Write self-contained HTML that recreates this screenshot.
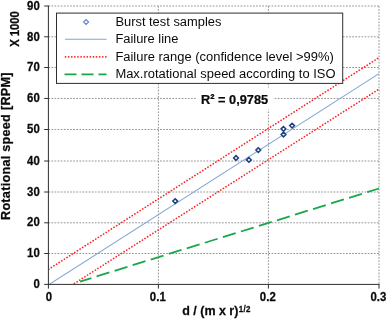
<!DOCTYPE html><html><head><meta charset="utf-8"><title>chart</title><style>html,body{margin:0;padding:0;background:#fff}svg{display:block}text{font-family:"Liberation Sans",Arial,sans-serif;fill:#0a0a0a}</style></head><body>
<svg width="387" height="319" viewBox="0 0 387 319">
<rect width="387" height="319" fill="#fff"/>
<line x1="48.4" y1="253.50" x2="379.0" y2="253.50" stroke="#939393" stroke-width="1" stroke-dasharray="1.7 1.4" fill="none"/>
<line x1="48.4" y1="222.80" x2="379.0" y2="222.80" stroke="#939393" stroke-width="1" stroke-dasharray="1.7 1.4" fill="none"/>
<line x1="48.4" y1="192.00" x2="379.0" y2="192.00" stroke="#939393" stroke-width="1" stroke-dasharray="1.7 1.4" fill="none"/>
<line x1="48.4" y1="161.00" x2="379.0" y2="161.00" stroke="#939393" stroke-width="1" stroke-dasharray="1.7 1.4" fill="none"/>
<line x1="48.4" y1="129.50" x2="379.0" y2="129.50" stroke="#939393" stroke-width="1" stroke-dasharray="1.7 1.4" fill="none"/>
<line x1="48.4" y1="98.45" x2="379.0" y2="98.45" stroke="#939393" stroke-width="1" stroke-dasharray="1.7 1.4" fill="none"/>
<line x1="48.4" y1="67.50" x2="379.0" y2="67.50" stroke="#939393" stroke-width="1" stroke-dasharray="1.7 1.4" fill="none"/>
<line x1="48.4" y1="36.80" x2="379.0" y2="36.80" stroke="#939393" stroke-width="1" stroke-dasharray="1.7 1.4" fill="none"/>
<line x1="48.4" y1="6.00" x2="379.0" y2="6.00" stroke="#939393" stroke-width="1" stroke-dasharray="1.7 1.4" fill="none"/>
<line x1="158.40" y1="6.0" x2="158.40" y2="284.4" stroke="#939393" stroke-width="1" stroke-dasharray="1.7 1.4" fill="none"/>
<line x1="268.40" y1="6.0" x2="268.40" y2="284.4" stroke="#939393" stroke-width="1" stroke-dasharray="1.7 1.4" fill="none"/>
<line x1="379.00" y1="6.0" x2="379.00" y2="284.4" stroke="#939393" stroke-width="1" stroke-dasharray="1.7 1.4" fill="none"/>
<rect x="196" y="87.5" width="77.5" height="22" fill="#fff"/>
<clipPath id="c"><rect x="48.4" y="6.0" width="331.1" height="278.4"/></clipPath>
<g clip-path="url(#c)">
<line x1="48.4" y1="284.9" x2="379.0" y2="73.6" stroke="#7fa6d6" stroke-width="1.1"/>
<line x1="48.699999999999996" y1="269.2" x2="379.0" y2="57.6" stroke="#ff2020" stroke-width="1.65" stroke-linecap="round" stroke-dasharray="0.15 2.95" fill="none"/>
<line x1="74.4" y1="283.5" x2="379.0" y2="89.1" stroke="#ff2020" stroke-width="1.65" stroke-linecap="round" stroke-dasharray="0.15 2.95" fill="none"/>
<line x1="80" y1="281.6" x2="379.0" y2="188.5" stroke="#1aa74c" stroke-width="1.8" stroke-dasharray="13.4 5.49" stroke-dashoffset="1.5"/>
</g>
<path d="M172.8 201.1L175.2 198.7L177.6 201.1L175.2 203.5Z" fill="#fff" stroke="#1f3f7f" stroke-width="1.5"/>
<path d="M233.6 158.0L236.0 155.6L238.4 158.0L236.0 160.4Z" fill="#fff" stroke="#1f3f7f" stroke-width="1.5"/>
<path d="M246.5 159.9L248.9 157.5L251.3 159.9L248.9 162.3Z" fill="#fff" stroke="#1f3f7f" stroke-width="1.5"/>
<path d="M255.9 150.1L258.3 147.7L260.7 150.1L258.3 152.5Z" fill="#fff" stroke="#1f3f7f" stroke-width="1.5"/>
<path d="M281.1 134.5L283.5 132.1L285.9 134.5L283.5 136.9Z" fill="#fff" stroke="#1f3f7f" stroke-width="1.5"/>
<path d="M281.1 128.9L283.5 126.5L285.9 128.9L283.5 131.3Z" fill="#fff" stroke="#1f3f7f" stroke-width="1.5"/>
<path d="M289.7 125.6L292.1 123.2L294.5 125.6L292.1 128.0Z" fill="#fff" stroke="#1f3f7f" stroke-width="1.5"/>
<line x1="48.4" y1="5.5" x2="48.4" y2="284.9" stroke="#2e2e2e" stroke-width="1"/>
<line x1="47.9" y1="284.4" x2="379.5" y2="284.4" stroke="#2e2e2e" stroke-width="1"/>
<line x1="44.199999999999996" y1="284.40" x2="48.4" y2="284.40" stroke="#2e2e2e" stroke-width="1"/>
<text transform="translate(39.80 287.80) scale(0.9200 1)" font-size="12.4" font-weight="bold" stroke="#0a0a0a" stroke-width="0.25" text-anchor="end">0</text>
<line x1="44.199999999999996" y1="253.50" x2="48.4" y2="253.50" stroke="#2e2e2e" stroke-width="1"/>
<text transform="translate(39.80 256.97) scale(0.9200 1)" font-size="12.4" font-weight="bold" stroke="#0a0a0a" stroke-width="0.25" text-anchor="end">10</text>
<line x1="44.199999999999996" y1="222.80" x2="48.4" y2="222.80" stroke="#2e2e2e" stroke-width="1"/>
<text transform="translate(39.80 226.33) scale(0.9200 1)" font-size="12.4" font-weight="bold" stroke="#0a0a0a" stroke-width="0.25" text-anchor="end">20</text>
<line x1="44.199999999999996" y1="192.00" x2="48.4" y2="192.00" stroke="#2e2e2e" stroke-width="1"/>
<text transform="translate(39.80 195.60) scale(0.9200 1)" font-size="12.4" font-weight="bold" stroke="#0a0a0a" stroke-width="0.25" text-anchor="end">30</text>
<line x1="44.199999999999996" y1="161.00" x2="48.4" y2="161.00" stroke="#2e2e2e" stroke-width="1"/>
<text transform="translate(39.80 164.67) scale(0.9200 1)" font-size="12.4" font-weight="bold" stroke="#0a0a0a" stroke-width="0.25" text-anchor="end">40</text>
<line x1="44.199999999999996" y1="129.50" x2="48.4" y2="129.50" stroke="#2e2e2e" stroke-width="1"/>
<text transform="translate(39.80 133.23) scale(0.9200 1)" font-size="12.4" font-weight="bold" stroke="#0a0a0a" stroke-width="0.25" text-anchor="end">50</text>
<line x1="44.199999999999996" y1="98.45" x2="48.4" y2="98.45" stroke="#2e2e2e" stroke-width="1"/>
<text transform="translate(39.80 102.25) scale(0.9200 1)" font-size="12.4" font-weight="bold" stroke="#0a0a0a" stroke-width="0.25" text-anchor="end">60</text>
<line x1="44.199999999999996" y1="67.50" x2="48.4" y2="67.50" stroke="#2e2e2e" stroke-width="1"/>
<text transform="translate(39.80 71.37) scale(0.9200 1)" font-size="12.4" font-weight="bold" stroke="#0a0a0a" stroke-width="0.25" text-anchor="end">70</text>
<line x1="44.199999999999996" y1="36.80" x2="48.4" y2="36.80" stroke="#2e2e2e" stroke-width="1"/>
<text transform="translate(39.80 40.73) scale(0.9200 1)" font-size="12.4" font-weight="bold" stroke="#0a0a0a" stroke-width="0.25" text-anchor="end">80</text>
<line x1="44.199999999999996" y1="6.00" x2="48.4" y2="6.00" stroke="#2e2e2e" stroke-width="1"/>
<text transform="translate(39.80 10.00) scale(0.9200 1)" font-size="12.4" font-weight="bold" stroke="#0a0a0a" stroke-width="0.25" text-anchor="end">90</text>
<line x1="48.40" y1="284.4" x2="48.40" y2="288.59999999999997" stroke="#2e2e2e" stroke-width="1"/>
<text transform="translate(48.90 301.00) scale(0.9200 1)" font-size="12.4" font-weight="bold" stroke="#0a0a0a" stroke-width="0.25" text-anchor="middle">0</text>
<line x1="158.40" y1="284.4" x2="158.40" y2="288.59999999999997" stroke="#2e2e2e" stroke-width="1"/>
<text transform="translate(157.80 301.00) scale(0.9200 1)" font-size="12.4" font-weight="bold" stroke="#0a0a0a" stroke-width="0.25" text-anchor="middle">0.1</text>
<line x1="268.40" y1="284.4" x2="268.40" y2="288.59999999999997" stroke="#2e2e2e" stroke-width="1"/>
<text transform="translate(267.80 301.00) scale(0.9200 1)" font-size="12.4" font-weight="bold" stroke="#0a0a0a" stroke-width="0.25" text-anchor="middle">0.2</text>
<line x1="379.00" y1="284.4" x2="379.00" y2="288.59999999999997" stroke="#2e2e2e" stroke-width="1"/>
<text transform="translate(378.40 301.00) scale(0.9200 1)" font-size="12.4" font-weight="bold" stroke="#0a0a0a" stroke-width="0.25" text-anchor="middle">0.3</text>
<rect x="56.5" y="13.1" width="286.2" height="70.3" fill="#fff" stroke="#2e2e2e" stroke-width="1"/>
<path d="M83.6 22L86.1 19.5L88.6 22L86.1 24.5Z" fill="#fff" stroke="#5f86bd" stroke-width="1.1"/>
<line x1="65" y1="39.2" x2="106.5" y2="39.2" stroke="#7fa6d6" stroke-width="1.1"/>
<line x1="65.5" y1="56.9" x2="106.8" y2="56.9" stroke="#ff2020" stroke-width="1.65" stroke-linecap="round" stroke-dasharray="0.15 2.95" fill="none"/>
<line x1="64.5" y1="74.3" x2="106.5" y2="74.3" stroke="#17a64a" stroke-width="1.7" stroke-dasharray="12 5"/>
<text transform="translate(115.40 25.70) scale(0.9550 1)" font-size="13.5">Burst test samples</text>
<text transform="translate(115.40 43.20) scale(0.9550 1)" font-size="13.5">Failure line</text>
<text transform="translate(115.40 60.80) scale(0.9590 1)" font-size="13.5">Failure range (confidence level &gt;99%)</text>
<text transform="translate(115.40 78.30) scale(0.9590 1)" font-size="13.5">Max.rotational speed according to ISO</text>
<text transform="translate(201.00 103.80) scale(0.9400 1)" font-size="13.6" font-weight="bold" stroke="#0a0a0a" stroke-width="0.25">R² = 0,9785</text>
<text transform="translate(9.7 220.0) rotate(-90) scale(1 0.975)" letter-spacing="0.29" font-size="12.6" font-weight="bold" stroke="#0a0a0a" stroke-width="0.25">Rotational speed [RPM]</text>
<text transform="translate(19.2 46.8) rotate(-90) scale(0.922 1)" font-size="12.2" font-weight="bold" stroke="#0a0a0a" stroke-width="0.25">X 1000</text>
<text transform="translate(182.20 315.30) scale(0.9330 1)" font-size="13.4" font-weight="bold" stroke="#0a0a0a" stroke-width="0.25">d / (m x r)<tspan font-size="8.5" dy="-3.4" dx="0.5" letter-spacing="0.35">1/2</tspan></text>
</svg></body></html>
